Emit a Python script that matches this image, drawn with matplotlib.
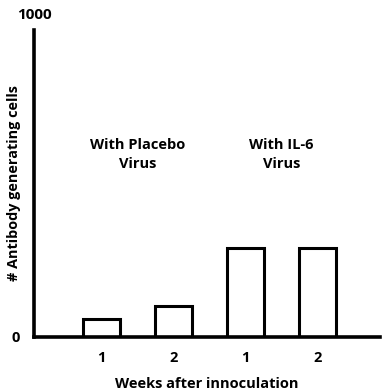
import matplotlib
matplotlib.use('Agg')
import matplotlib.pyplot as plt

weeks = ['1', '2', '1', '2']
cells = [60, 100, 290, 290]
groups = ['With Placebo\nVirus', 'With IL-6\nVirus']

plt.rcParams['font.family'] = ['Open Sans', 'DejaVu Sans']
plt.rcParams['font.weight'] = 'bold'

fig = plt.figure(figsize=(3.9, 3.9), dpi=100)
ax = fig.add_axes([0.0872, 0.136, 0.887, 0.787])

x = list(range(len(cells)))
ax.bar(x, cells, width=0.52, facecolor='white', edgecolor='black', linewidth=2.2)

ax.set_xlim(-0.94, 3.87)
ax.set_ylim(0, 1000)
ax.set_xticks(x)
ax.set_xticklabels(weeks, fontsize=10.5, fontweight='bold')
ax.set_yticks([0])
ax.set_yticklabels(['0'], fontsize=10.5, fontweight='bold')
ax.tick_params(length=0, pad=10)
ax.text(0, 1.025, '1000', transform=ax.transAxes, ha='center', va='bottom',
        fontsize=11, fontweight='bold')

for s in ['top', 'right']:
    ax.spines[s].set_visible(False)
for s in ['left', 'bottom']:
    ax.spines[s].set_linewidth(2.6)

ax.text(0.5, 595, groups[0], ha='center', va='center', fontsize=10.5, fontweight='bold', linespacing=1.5)
ax.text(2.5, 595, groups[1], ha='center', va='center', fontsize=10.5, fontweight='bold', linespacing=1.5)

ax.set_xlabel('Weeks after innoculation', fontsize=10.5, fontweight='bold', labelpad=9)
fig.text(14 / 390, 1 - 183 / 390, '# Antibody generating cells', rotation=90,
         ha='center', va='center', fontsize=10.4, fontweight='bold')

fig.savefig('out.png', dpi=100)
